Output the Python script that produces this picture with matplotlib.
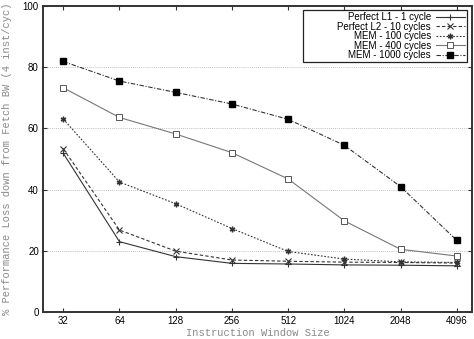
import matplotlib
matplotlib.use("Agg")
import matplotlib.pyplot as plt

# Instruction window sizes and % performance loss for each memory config
window_sizes = ["32", "64", "128", "256", "512", "1024", "2048", "4096"]
perfect_l1 = [51.9, 23.0, 18.1, 15.9, 15.7, 15.4, 15.3, 15.1]
perfect_l2 = [53.4, 26.8, 19.9, 17.0, 16.6, 16.3, 16.2, 16.0]
mem_100 = [63.1, 42.5, 35.4, 27.3, 19.8, 17.3, 16.4, 16.2]
mem_400 = [73.3, 63.6, 58.2, 52.1, 43.5, 29.8, 20.5, 18.3]
mem_1000 = [81.9, 75.5, 71.8, 68.0, 63.0, 54.5, 41.0, 23.4]

series = [
    ("Perfect L1 - 1 cycle", perfect_l1, dict(color="#333333", ls="-", marker="+", ms=4, mew=0.8)),
    ("Perfect L2 - 10 cycles", perfect_l2, dict(color="#333333", ls=(0, (3, 2)), marker="x", ms=4, mew=0.8)),
    ("MEM - 100 cycles", mem_100, dict(color="#333333", ls=(0, (1.5, 1.5)), marker=(6, 2, 0), ms=4, mew=1.0)),
    ("MEM - 400 cycles", mem_400, dict(color="#777777", ls="-", marker="s", ms=4, mfc="white", mec="#555555", mew=0.7)),
    ("MEM - 1000 cycles", mem_1000, dict(color="#333333", ls=(0, (4, 1.5, 1, 1.5)), marker="s", ms=4, mfc="black", mec="black")),
]

fig = plt.figure(figsize=(4.74, 3.39), dpi=100)
ax = fig.add_axes([0.0907, 0.0796, 0.905, 0.9024])

x = list(range(len(window_sizes)))
for label, vals, style in series:
    ax.plot(x, vals, lw=0.8, label=label, **style)

ax.set_xlim(-0.36, 7.27)
ax.set_ylim(0, 100)
ax.set_xticks(x)
ax.set_xticklabels(window_sizes)
ax.set_yticks([0, 20, 40, 60, 80, 100])
ax.yaxis.grid(True, color="#aaaaaa", ls=(0, (1, 1.5)), lw=0.6)
ax.tick_params(direction="in", top=True, right=True, length=3, width=0.8,
               labelsize=7, color="#333333", pad=3)
for t in ax.get_xticklabels() + ax.get_yticklabels():
    t.set_family("Liberation Sans")
for sp in ax.spines.values():
    sp.set_linewidth(1.4)
    sp.set_color("#333333")

mono = dict(family="Liberation Mono", fontsize=7.5, color="#888888")
ax.set_ylabel("% Performance Loss down from Fetch BW (4 inst/cyc)", labelpad=8, **mono)
ax.set_xlabel("Instruction Window Size", labelpad=1.5, **mono)

leg = ax.legend(loc="upper right", bbox_to_anchor=(0.988, 0.987), borderaxespad=0,
                markerfirst=False, prop=dict(family="Liberation Sans", size=7),
                labelspacing=-0.05, handlelength=3.0, handletextpad=0.5, borderpad=0.2,
                fancybox=False, framealpha=1, edgecolor="#222222")
leg.get_frame().set_linewidth(0.9)
# right-align the rows inside a wider column, leaving blank room on the left
for col in leg._legend_box._children[1]._children:
    col.align = "right"
    col.width = 160

fig.savefig("out.png", dpi=100)
